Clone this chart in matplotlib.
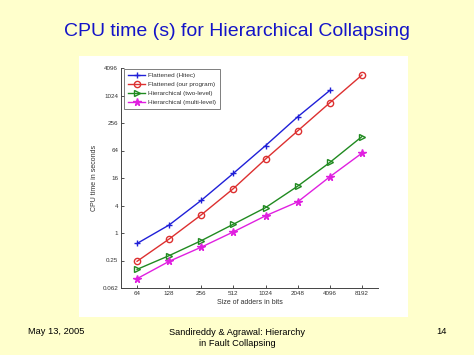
import numpy as np
import matplotlib
matplotlib.use("Agg")
import matplotlib.pyplot as plt
from matplotlib.patches import Rectangle

plt.rcParams['font.family'] = ['Liberation Sans', 'DejaVu Sans']

sizes = [64, 128, 256, 512, 1024, 2048, 4096, 8192]
hitec = [0.59, 1.5, 5.2, 20.3, 82, 350, 1320]
ours = [0.24, 0.74, 2.5, 9.4, 41.6, 172, 710, 2870]
two_level = [0.16, 0.32, 0.68, 1.56, 3.6, 10.6, 35, 129]
multi_level = [0.10, 0.24, 0.49, 1.06, 2.38, 4.8, 17, 56]

yticks = [0.0625, 0.25, 1, 4, 16, 64, 256, 1024, 4096]
ytick_labels = ['0.062', '0.25', '1', '4', '16', '64', '256', '1024', '4096']

fig = plt.figure(figsize=(4.74, 3.55), dpi=100)
fig.patch.set_facecolor('#FFFFCC')

# white panel behind the matlab figure
fig.patches.append(Rectangle((79/474, 1-317/355), (408-79)/474, (317-56)/355,
                             transform=fig.transFigure, facecolor='white',
                             edgecolor='none', zorder=-5))

ax = fig.add_axes([121/474, 1-288/355, (378-121)/474, (288-68)/355])
ax.set_zorder(2)
ax.set_facecolor('white')

ax.plot(sizes[:len(hitec)], hitec, color='#2020D8', marker='+', ms=4.5, lw=1,
        label='Flattened (Hitec)')
ax.plot(sizes, ours, color='#DD3030', marker='o', ms=4.5, mfc='none', lw=1,
        label='Flattened (our program)')
ax.plot(sizes, two_level, color='#208A20', marker='>', ms=4.5, mfc='none', lw=1,
        label='Hierarchical (two-level)')
ax.plot(sizes, multi_level, color='#E020E0', marker='*', ms=5.5, lw=1,
        label='Hierarchical (multi-level)')

ax.set_xscale('log', base=2)
ax.set_yscale('log', base=2)
ax.set_xlim(2**5.5, 2**13.5)
ax.set_ylim(2**-4, 2**12)
ax.set_xticks(sizes)
ax.set_xticklabels([str(s) for s in sizes])
ax.set_yticks(yticks)
ax.set_yticklabels(ytick_labels)
ax.minorticks_off()
ax.tick_params(direction='in', length=2, width=0.6, labelsize=4.5, colors='#333333', pad=2)
for s in ['top', 'right']:
    ax.spines[s].set_visible(False)
for s in ['left', 'bottom']:
    ax.spines[s].set_linewidth(0.7)
    ax.spines[s].set_color('#444444')

ax.set_xlabel('Size of adders in bits', fontsize=5, color='#333333', labelpad=2)
ax.set_ylabel('CPU time in seconds', fontsize=5, color='#333333', labelpad=3)

leg = ax.legend(loc='upper left', fontsize=4.6, frameon=True, fancybox=False,
                edgecolor='#444444', borderpad=0.6, handlelength=2.7,
                handletextpad=0.5, labelspacing=0.55,
                bbox_to_anchor=(0.012, 0.995), borderaxespad=0)
leg.get_frame().set_linewidth(0.6)
for t in leg.get_texts():
    t.set_color('#333333')

fig.text(0.5, 1-32/355, 'CPU time (s) for Hierarchical Collapsing', ha='center',
         va='center', fontsize=14, color='#1414C8')
fig.text(56/474, 1-332/355, 'May 13, 2005', ha='center', va='center', fontsize=6.7)
fig.text(237/474, 1-338/355, 'Sandireddy & Agrawal: Hierarchy\nin Fault Collapsing',
         ha='center', va='center', fontsize=6.7, linespacing=1.15)
fig.text(441/474, 1-332/355, '14', ha='center', va='center', fontsize=6.7)

fig.savefig('out.png', dpi=100, facecolor=fig.get_facecolor())
